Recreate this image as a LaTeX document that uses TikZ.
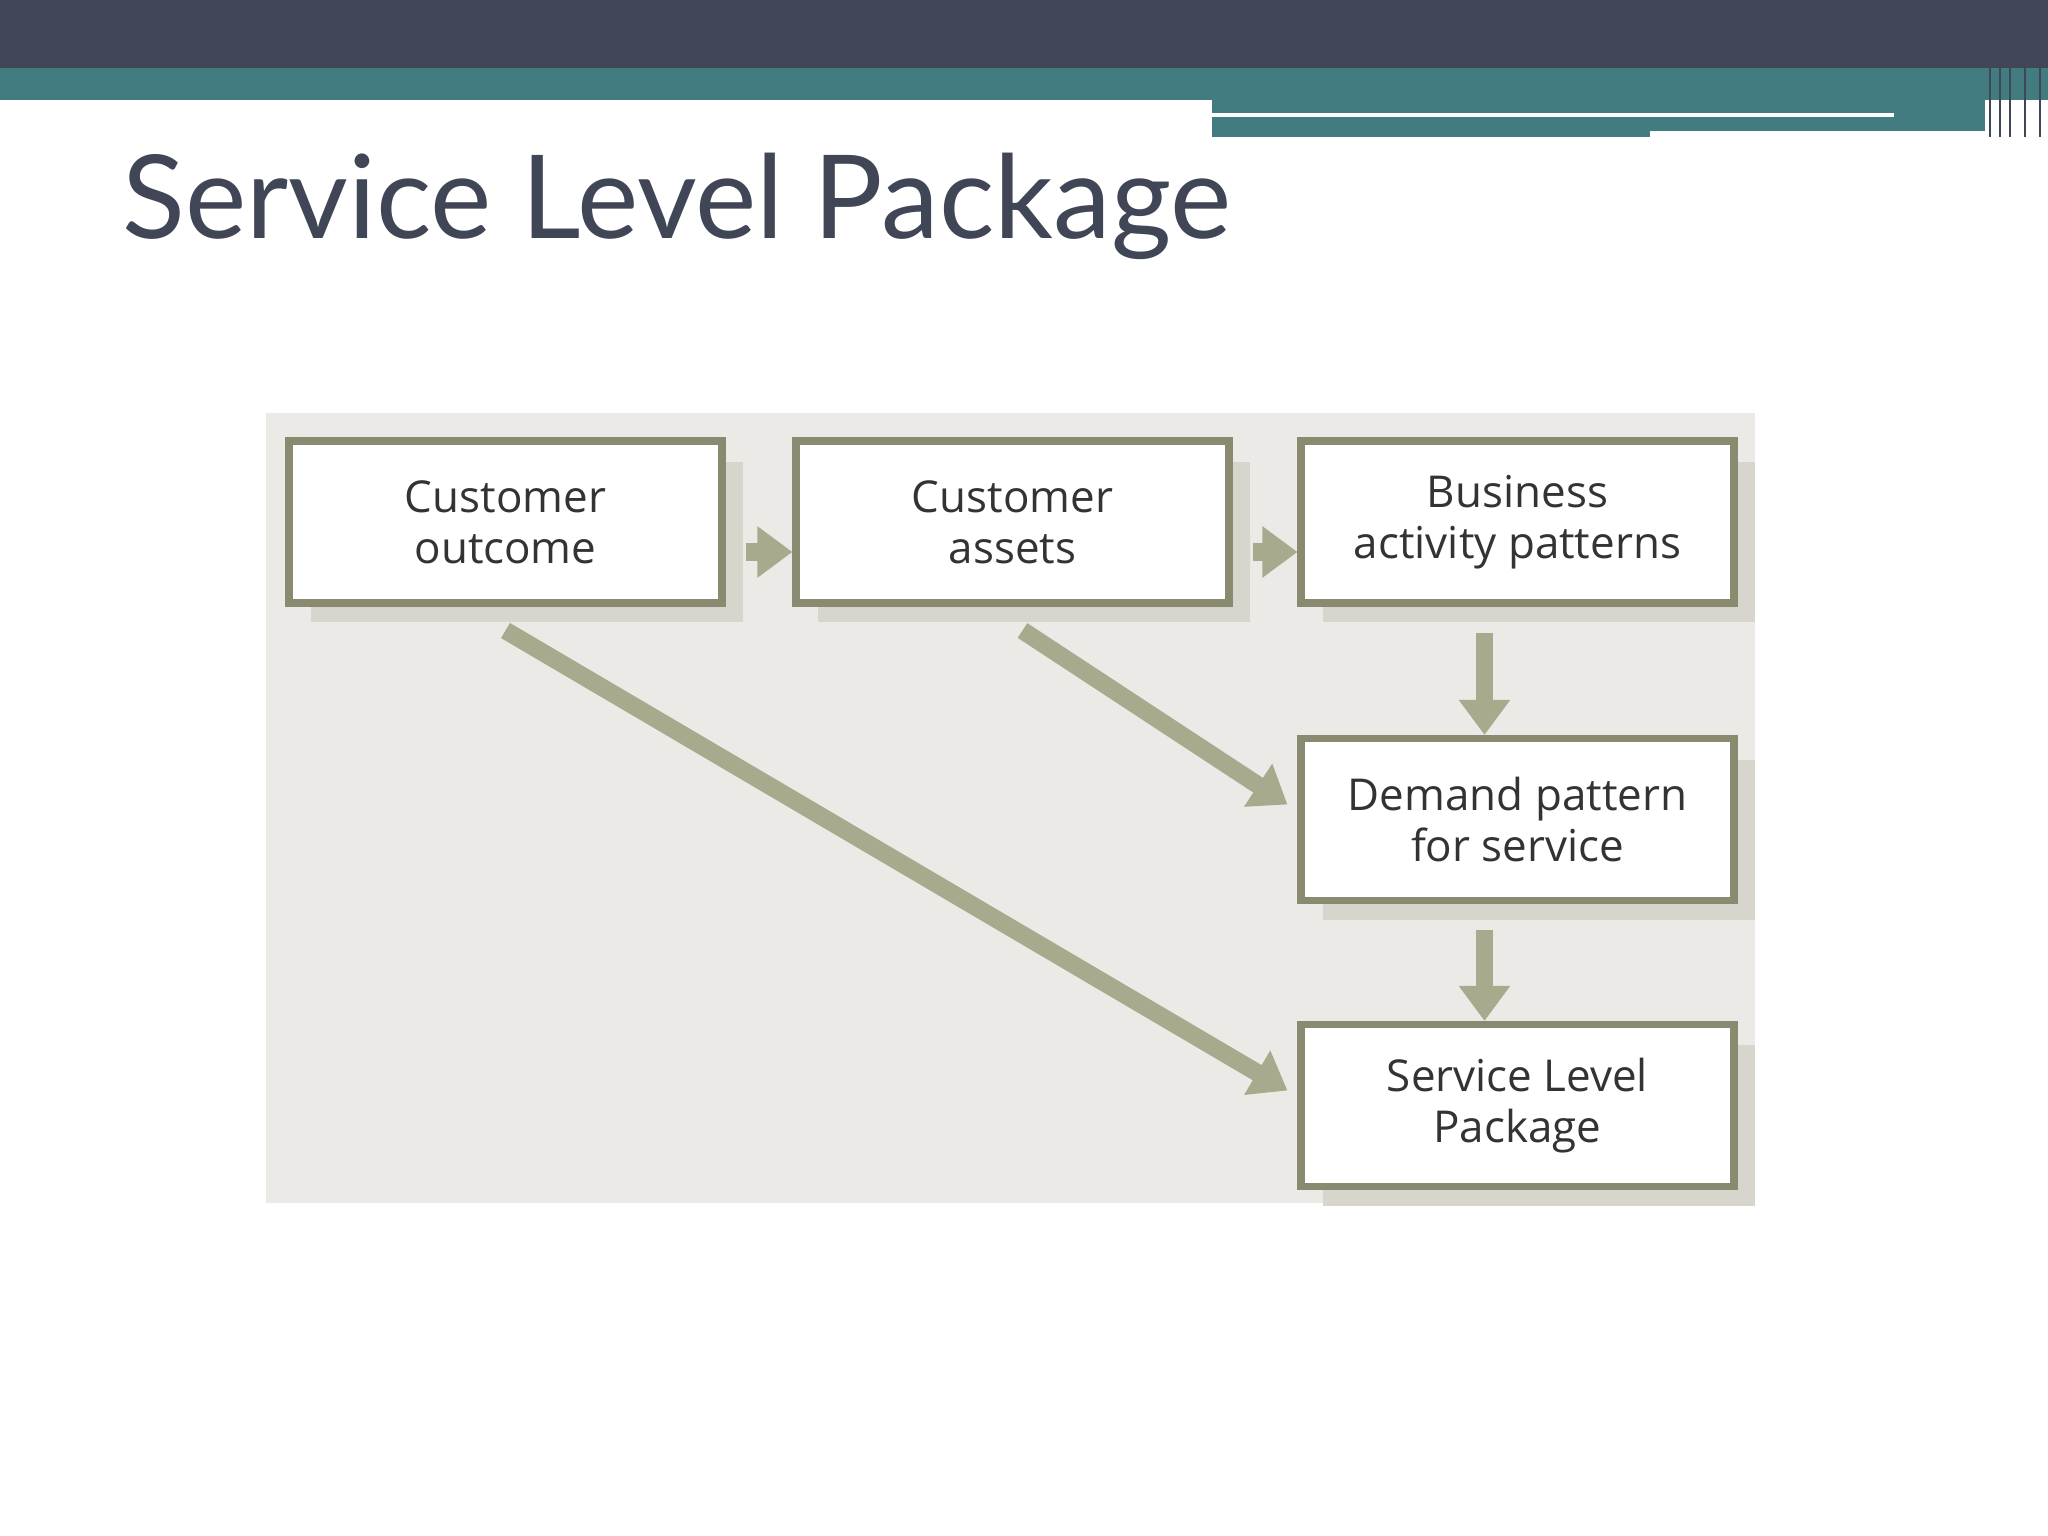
\documentclass[tikz,border=0pt]{standalone}
\usepackage{fontspec}
\setmainfont{Open Sans}
\newfontfamily\titlefont{Lato}
\usetikzlibrary{arrows.meta,calc}
\definecolor{dark}{HTML}{414656}
\definecolor{teal}{HTML}{437C80}
\definecolor{panel}{HTML}{ECEAE6}
\definecolor{shadowc}{HTML}{D8D6CC}
\definecolor{bord}{HTML}{8A8A70}
\definecolor{arr}{HTML}{A9A98D}
\begin{document}
\begin{tikzpicture}[x=1cm,y=-1cm,
  box/.style={draw=bord,line width=2pt,fill=white,minimum width=4.33cm,minimum height=1.62cm,align=center,font=\fontsize{12.5}{14.5}\selectfont,text=black!80},
  fl/.style={draw=arr,line width=5pt,-{Triangle[length=10pt,width=14pt]}}]
\useasboundingbox (0,0) rectangle (20.48,15.36);
\fill[white] (0,0) rectangle (20.48,15.36);
\fill[dark] (0,0) rectangle (20.48,0.68);
\fill[teal] (0,0.68) rectangle (20.48,1.0);
\fill[teal] (12.12,1.0) rectangle (19.85,1.37);
\fill[white] (12.12,1.13) rectangle (18.94,1.17);
\fill[white] (16.5,1.31) rectangle (19.85,1.37);
\foreach \x in {19.9,20.0,20.1,20.25,20.4} \draw[dark,line width=0.6pt] (\x,0) -- (\x,1.37);
\node[anchor=base west,inner sep=0,text=dark,font=\titlefont\fontsize{33}{36}\selectfont] (title) at (1.22,2.39) {Service Level Package};
\fill[panel] (2.66,4.13) rectangle (17.55,12.03);
\foreach \c in {{5.055,5.22},{10.125,5.22},{15.175,5.22},{15.175,8.195},{15.175,11.055}}
  \fill[shadowc] ($(\c)+(-1.95,-0.6)$) rectangle ($(\c)+(2.37,1.0)$);
\node[box] (b1) at (5.055,5.22) {Customer\\outcome};
\node[box] (b2) at (10.125,5.22) {Customer\\assets};
\node[box] (b3) at (15.175,5.22) {Business\\activity patterns};
\node[box] (b4) at (15.175,8.195) {Demand pattern\\for service};
\node[box] (b5) at (15.175,11.055) {Service Level\\Package};
\draw[fl] ([xshift=2mm,yshift=-3mm]b1.east) -- ([yshift=-3mm]b2.west);
\draw[fl] ([xshift=2mm,yshift=-3mm]b2.east) -- ([yshift=-3mm]b3.west);
\draw[fl] ([xshift=-3.3mm,yshift=-2.6mm]b3.south) -- ([xshift=-3.3mm]b4.north);
\draw[fl] ([xshift=-3.3mm,yshift=-2.6mm]b4.south) -- ([xshift=-3.3mm]b5.north);
\draw[fl] ([xshift=0mm,yshift=-2.4mm]b1.south) -- ([xshift=-1mm,yshift=1.5mm]b5.west);
\draw[fl] ([xshift=1mm,yshift=-2.4mm]b2.south) -- ([xshift=-1mm,yshift=1.5mm]b4.west);
\end{tikzpicture}
\end{document}
